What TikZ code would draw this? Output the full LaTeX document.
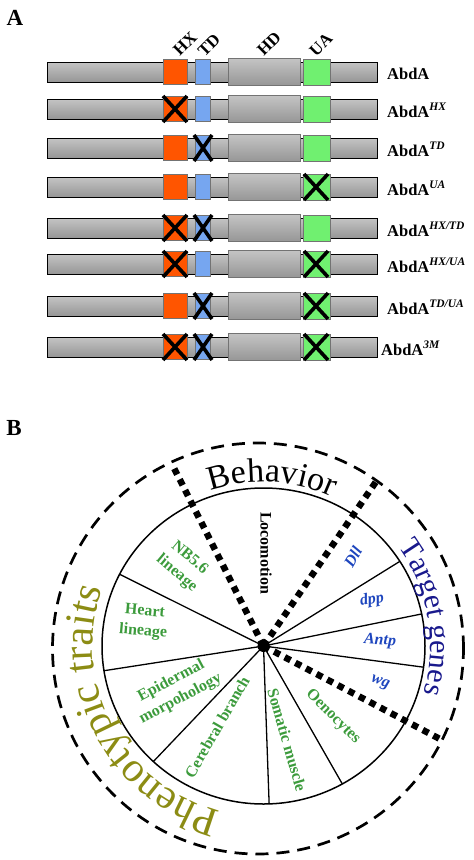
\documentclass[tikz,border=0pt]{standalone}
\usepackage{fontspec}
\setmainfont{Liberation Serif}
\usetikzlibrary{decorations.text,calc}
\definecolor{hxc}{RGB}{255,85,0}
\definecolor{tdc}{RGB}{118,166,240}
\definecolor{uac}{RGB}{112,240,112}
\definecolor{grn}{RGB}{60,155,60}
\definecolor{blu}{RGB}{30,70,190}
\definecolor{tgc}{RGB}{25,25,140}
\definecolor{olv}{RGB}{140,140,20}
\definecolor{bartop}{RGB}{196,196,196}
\definecolor{barmid}{RGB}{218,218,218}
\definecolor{barbot}{RGB}{150,150,150}
\tikzset{
  barsty/.style={draw=black, line width=1pt, top color=bartop, middle color=barmid, bottom color=barbot},
  hdsty/.style={draw=black!55, line width=0.7pt, top color=bartop, middle color=barmid, bottom color=barbot},
  boxsty/.style={draw=black!55, line width=0.7pt},
  xsty/.style={draw=black, line width=3.6pt},
  labsty/.style={anchor=west, font=\fontsize{16.5}{18}\selectfont\bfseries, inner sep=0pt},
  collab/.style={rotate=45, font=\fontsize{17}{18}\selectfont\bfseries, inner sep=0pt},
  panlab/.style={font=\fontsize{23}{24}\selectfont\bfseries, inner sep=0pt},
  gtxt/.style={text=grn, font=\fontsize{16}{20}\selectfont\bfseries, align=center, inner sep=0pt},
  btxt/.style={text=blu, font=\fontsize{16}{20}\selectfont\bfseries\itshape, inner sep=0pt},
  spoke/.style={draw=black, line width=1.3pt},
  dotline/.style={draw=black, line width=6.5pt, dash pattern=on 6.5pt off 5.5pt},
  outerdash/.style={draw=black, line width=2.7pt, dash pattern=on 13pt off 8pt},
}
\newcommand\protrow[7]{%
  \draw[barsty] (47,#1-10) rectangle (377,#1+10);
  \draw[boxsty, fill=hxc] (163,#1-12.5) rectangle (187,#1+12.5);
  \draw[boxsty, fill=tdc] (195,#1-12.5) rectangle (210,#1+12.5);
  \draw[hdsty] (228,#1-13.5) rectangle (300,#1+13.5);
  \draw[boxsty, fill=uac] (303,#1-13) rectangle (330,#1+13);
  \ifnum#4=1 \draw[xsty] (163,#1+13)--(187,#1-13) (163,#1-13)--(187,#1+13);\fi
  \ifnum#5=1 \draw[xsty] (194,#1+13)--(212,#1-13) (194,#1-13)--(212,#1+13);\fi
  \ifnum#6=1 \draw[xsty] (304,#1+13)--(328,#1-13) (304,#1-13)--(328,#1+13);\fi
  \node[labsty] (#2) at (#7,#1-1.5) {AbdA\raisebox{6.5pt}{\fontsize{11.5}{12}\selectfont\itshape #3}};
}
\begin{document}
\begin{tikzpicture}[x=1pt,y=1pt]
\useasboundingbox (0,0) rectangle (474,-860);
% Panel A
\node[panlab] (labA) at (15,-17.5) {A};
\node[collab] (cHX) at (185,-44) {HX};
\node[collab] (cTD) at (209,-45) {TD};
\node[collab] (cHD) at (269,-44) {HD};
\node[collab] (cUA) at (321,-45) {UA};
\protrow{-72}{r1}{}{0}{0}{0}{387}
\protrow{-109}{r2}{HX}{1}{0}{0}{387}
\protrow{-148}{r3}{TD}{0}{1}{0}{387}
\protrow{-187}{r4}{UA}{0}{0}{1}{387}
\protrow{-228}{r5}{HX/TD}{1}{1}{0}{387}
\protrow{-264}{r6}{HX/UA}{1}{0}{1}{387}
\protrow{-306}{r7}{TD/UA}{0}{1}{1}{387}
\protrow{-347}{r8}{3M}{1}{1}{1}{381}
% Panel B
\node[panlab] (labB) at (14,-428) {B};
\coordinate (C) at (263.5,-646);
\coordinate (D) at (258,-648.5);
\draw[outerdash] (D) circle[radius=205.5];
\draw[line width=1.5pt] (C) ellipse[x radius=161.5, y radius=158];
\foreach \a in {153,189,227,272,299.2,32.4,11.7,-7.7}
  \draw[spoke] (C) -- ($(C)+(\a:161.5 and 158)$);
\coordinate (d1) at ($(C)+(116.7:201)$);
\coordinate (d2) at ($(C)+(55.6:201)$);
\coordinate (d3) at ($(C)+(-27.8:199)$);
\draw[dotline] (C) -- (d1);
\draw[dotline] (C) -- (d2);
\draw[dotline] (C) -- (d3);
\fill (C) circle[radius=6];
% inner labels
\node[rotate=-90, font=\fontsize{16}{20}\selectfont\bfseries, inner sep=0pt] (loc) at (266,-553) {Locomotion};
\node[btxt, rotate=60] (dll) at (353,-557) {Dll};
\node[btxt, rotate=10] (dpp) at (372,-600) {dpp};
\node[btxt, rotate=-3] (antp) at (380,-641) {Antp};
\node[btxt, rotate=-20] (wg) at (380,-683) {wg};
\node[gtxt, rotate=-45] (oeno) at (333,-717) {Oenocytes};
\node[gtxt, rotate=-74] (som) at (287,-740) {Somatic muscle};
\node[gtxt, rotate=60] (cer) at (217,-727) {Cerebral branch};
\node[gtxt, rotate=28] (epi) at (176,-690) {Epidermal\\morpohology};
\node[gtxt, rotate=-5] (heart) at (144,-622) {Heart\\lineage};
\node[gtxt, rotate=-40] (nb) at (183,-566) {NB5.6\\lineage};
% arc labels
\path[decorate, decoration={text along path, text align=center,
  text={|\fontsize{34}{36}\selectfont|Behavior}}]
  ($(C)+(127:164)$) arc[start angle=127, end angle=47, radius=164];
\path[decorate, decoration={text along path, text align=center, text color=tgc,
  text={|\fontsize{30}{32}\selectfont|Target genes}}]
  ($(C)+(50:167)$) arc[start angle=50, end angle=-30, radius=167];
\path[decorate, decoration={text along path, text align=center, text color=olv,
  text={|\fontsize{42}{44}\selectfont|Phenotypic traits}}]
  ($(C)+(290:171)$) arc[start angle=290, end angle=126, radius=171];
\end{tikzpicture}
\end{document}
